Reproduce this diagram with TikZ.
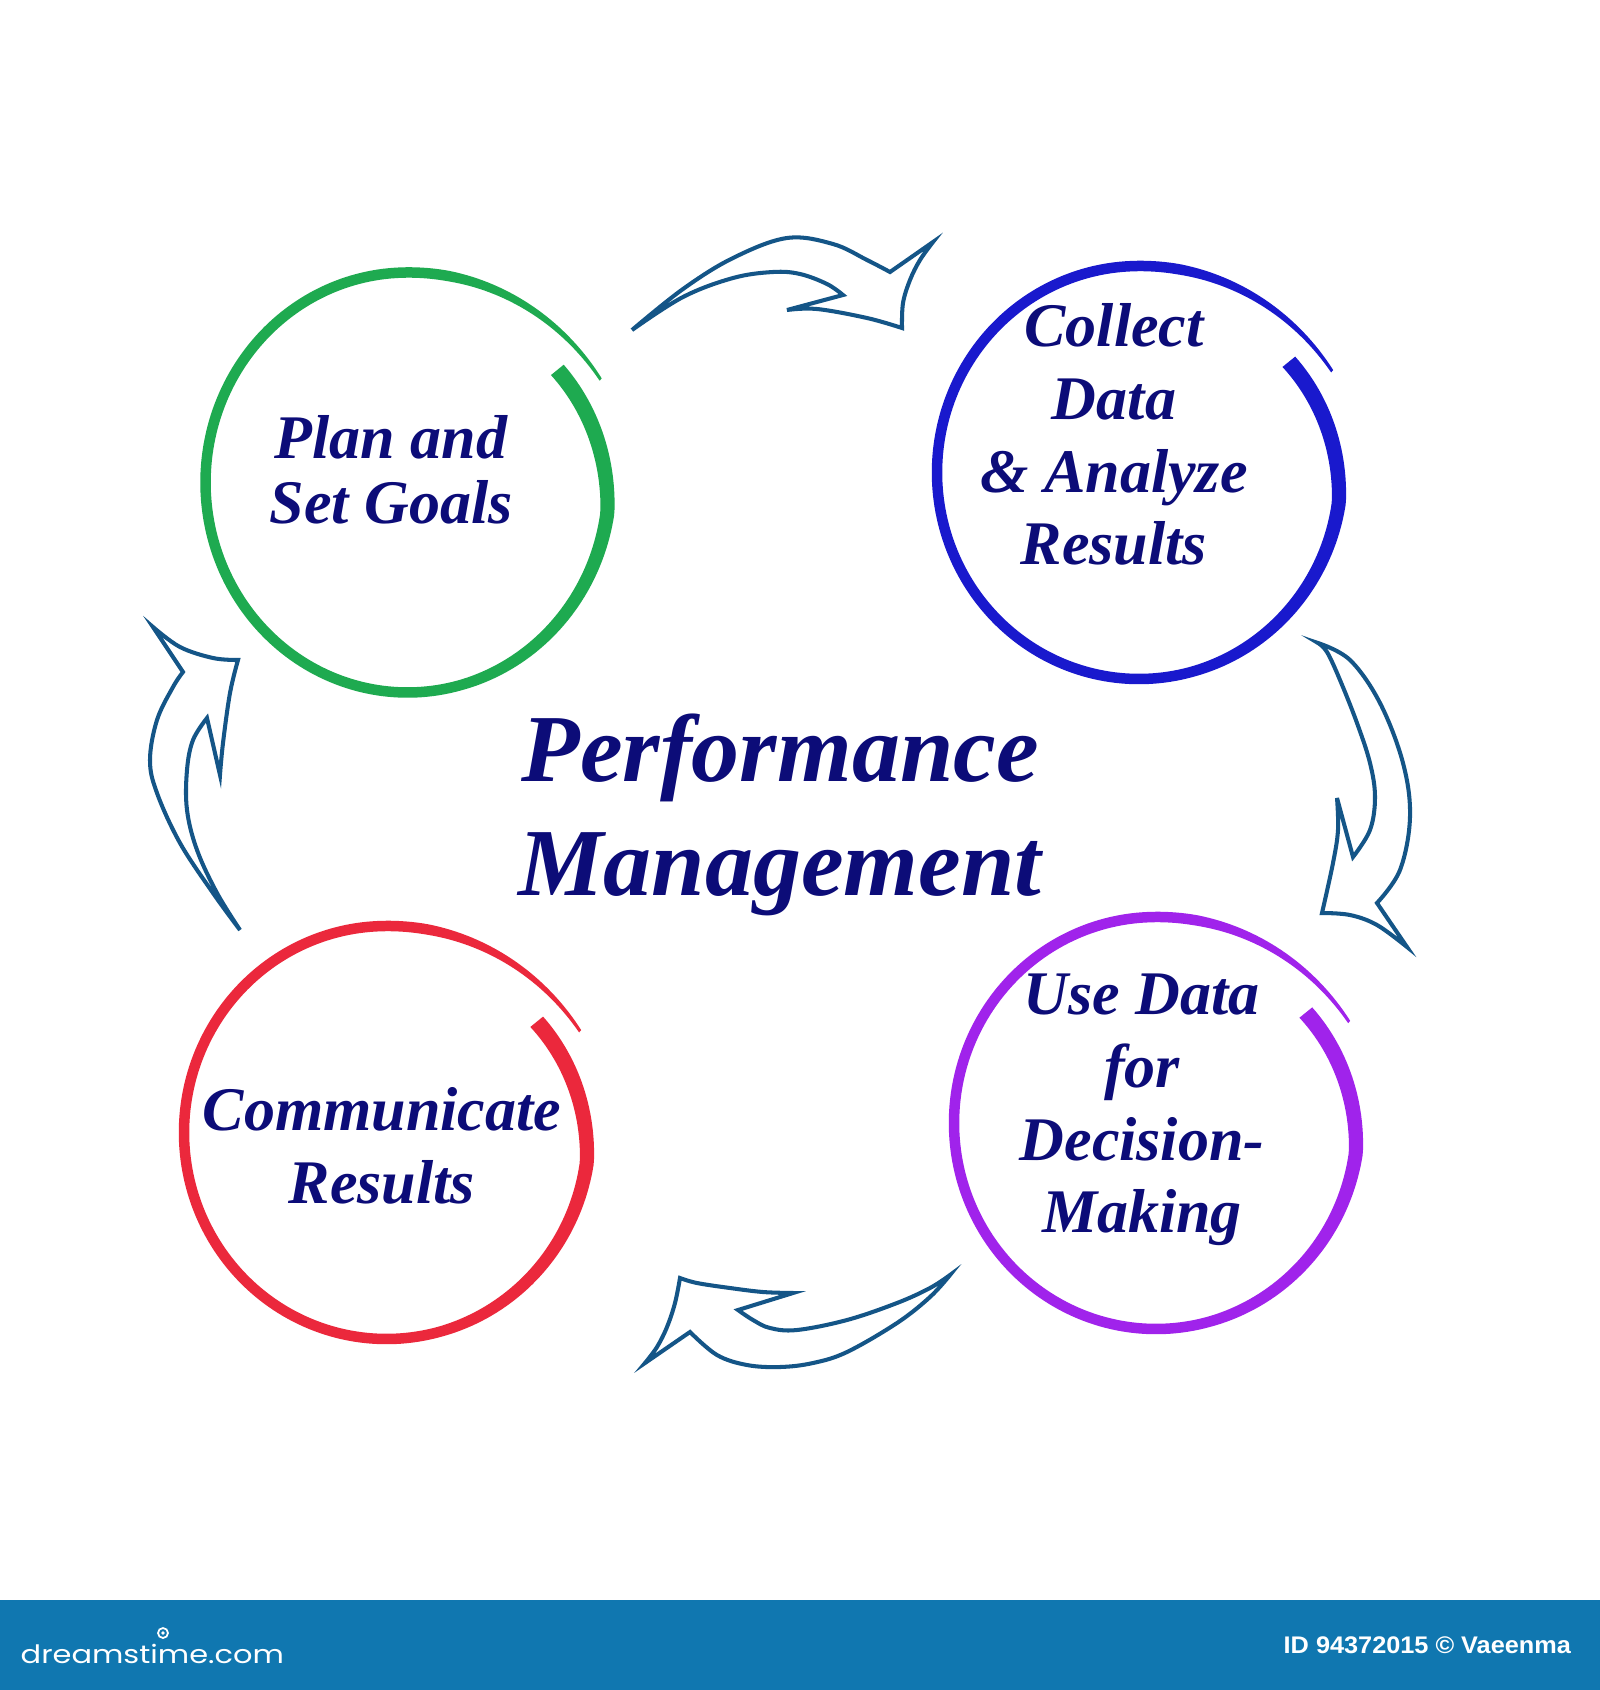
\documentclass[tikz,border=0pt]{standalone}
\usepackage{graphicx}
\usepackage{fontspec}
\setmainfont{Liberation Serif}
\newfontfamily\bannersans{Liberation Sans}
\newfontfamily\logosans{Poppins}
\definecolor{navytext}{RGB}{12,12,120}
\definecolor{cgreen}{RGB}{30,170,80}
\definecolor{cblue}{RGB}{25,25,205}
\definecolor{cred}{RGB}{235,40,60}
\definecolor{cpurple}{RGB}{160,35,235}
\definecolor{arrowblue}{RGB}{20,85,135}
\definecolor{bannerblue}{RGB}{16,119,176}
\newcommand\handcircle[5]{%
  \fill[#5] plot[domain=0:1,samples=240,variable=\s]
    ({#1+(#3*hcr(\s)+hcw(\s)/2)*cos(hca(\s))},{#2-(#4*hcr(\s)+hcw(\s)/2)*sin(hca(\s))})
    -- plot[domain=1:0,samples=240,variable=\s]
    ({#1+(#3*hcr(\s)-hcw(\s)/2)*cos(hca(\s))},{#2-(#4*hcr(\s)-hcw(\s)/2)*sin(hca(\s))})
    -- cycle;}
\begin{document}
\begin{tikzpicture}[x=0.01cm,y=-0.01cm,
  declare function={
    hcr(\s)=1-0.085*max(0,1-\s/0.12)+0.075*max(0,(\s-0.82)/0.18)*max(0,(\s-0.82)/0.18);
    hcw(\s)=10.5+6*max(0,1-\s/0.3)-7.5*max(0,(\s-0.86)/0.14);
    hca(\s)=36-369*\s;
  },
  lbl/.style={text=navytext,inner sep=0pt,align=center,
    font=\bfseries\itshape\fontsize{17.64}{20.68}\selectfont},
  titlelbl/.style={text=navytext,inner sep=0pt,align=center,
    font=\bfseries\itshape\fontsize{27.3}{32.44}\selectfont},
  arrowline/.style={draw=arrowblue,line width=1.15pt,line join=miter},
  smoothline/.style={smooth,tension=0.6}
]
\fill[white] (0,0) rectangle (1600,1690);
\useasboundingbox (0,0) rectangle (1600,1690);

% circles
\coordinate (gc) at (407.5,482.5);
\coordinate (bc) at (1139,472.5);
\coordinate (rc) at (386.5,1132.5);
\coordinate (pc) at (1156,1123);
\handcircle{407.5}{482.5}{202}{210}{cgreen}
\handcircle{1139}{472.5}{202}{206.5}{cblue}
\handcircle{386.5}{1132.5}{202.5}{206.5}{cred}
\handcircle{1156}{1123}{202}{206}{cpurple}

% labels
\node[lbl,font=\bfseries\itshape\fontsize{17.64}{18.5}\selectfont] (plan) at (391,469.5) {Plan and\\Set Goals};
\node[lbl] (collect) at (1114,434.5) {Collect\\Data\\\& Analyze\\Results};
\node[lbl] (comm) at (382,1145.5) {Communicate\\Results};
\node[lbl] (usedata) at (1142,1110) {Use Data\\for\\Decision-\\Making};
\node[titlelbl] (pm) at (780,815) {Performance\\Management};

% top arrow
\draw[arrowline] plot[smoothline] coordinates {(632,330) (683,289) (733,258) (787,238) (833,244) (867,260) (890,272)}
  -- (933,242)
  -- plot[smoothline] coordinates {(933,242) (920,260) (910,280) (903,303) (902,328)}
  -- plot[smoothline] coordinates {(902,328) (867,318) (817,309) (787,310)}
  -- (843,295)
  -- plot[smoothline] coordinates {(843,295) (827,284) (800,274) (773,272) (733,278) (683,297) (632,330)}
  -- cycle;

% right arrow
\draw[arrowline] plot[smoothline] coordinates {(1318,643) (1350,660) (1380,703) (1403,763) (1410,817) (1400,870) (1377,903)}
  -- (1407,947)
  -- plot[smoothline] coordinates {(1407,947) (1377,925) (1350,915) (1322,913)}
  -- plot[smoothline] coordinates {(1322,913) (1333,863) (1338,830) (1337,798)}
  -- (1353,857)
  -- plot[smoothline] coordinates {(1353,857) (1370,830) (1375,797) (1370,763) (1357,723) (1340,680) (1327,652) (1318,643)}
  -- cycle;

% left arrow
\draw[arrowline] plot[smoothline] coordinates {(240,930) (213,893) (180,843) (157,793) (150,760) (157,720) (173,687) (183,672)}
  -- (153,627)
  -- plot[smoothline] coordinates {(153,627) (180,647) (213,658) (238,660)}
  -- plot[smoothline] coordinates {(238,660) (230,693) (223,743) (220,775)}
  -- (207,718)
  -- plot[smoothline] coordinates {(207,718) (193,740) (187,770) (187,810) (197,850) (217,893) (240,930)}
  -- cycle;

% bottom arrow
\draw[arrowline] plot[smoothline] coordinates {(950,1275) (930,1288) (897,1303) (847,1320) (797,1330) (770,1328) (753,1320) (738,1310)}
  -- (793,1293)
  -- plot[smoothline] coordinates {(793,1293) (763,1292) (730,1288) (697,1283) (680,1278)}
  -- plot[smoothline] coordinates {(680,1278) (675,1303) (667,1327) (657,1347) (645,1363)}
  -- (690,1332)
  -- plot[smoothline] coordinates {(690,1332) (717,1355) (747,1365) (780,1367) (813,1363) (847,1352) (897,1323) (930,1297) (950,1275)}
  -- cycle;

% banner
\fill[bannerblue] (0,1600) rectangle (1600,1690);
\node[anchor=base west,text=white,inner sep=0pt] (logo) at (20,1663)
  {\logosans\fontsize{7.2}{8}\selectfont\resizebox{2.63cm}{\height}{dreamstime.com}};
\draw[white,line width=0.5pt] (163,1633) circle (5);
\fill[white] (163,1633) circle (1.8);
\node[anchor=base west,text=white,inner sep=0pt] (credit) at (1283,1653)
  {\bannersans\bfseries\fontsize{6.83}{8}\selectfont\resizebox{2.87cm}{\height}{ID 94372015 © Vaeenma}};
\end{tikzpicture}
\end{document}
